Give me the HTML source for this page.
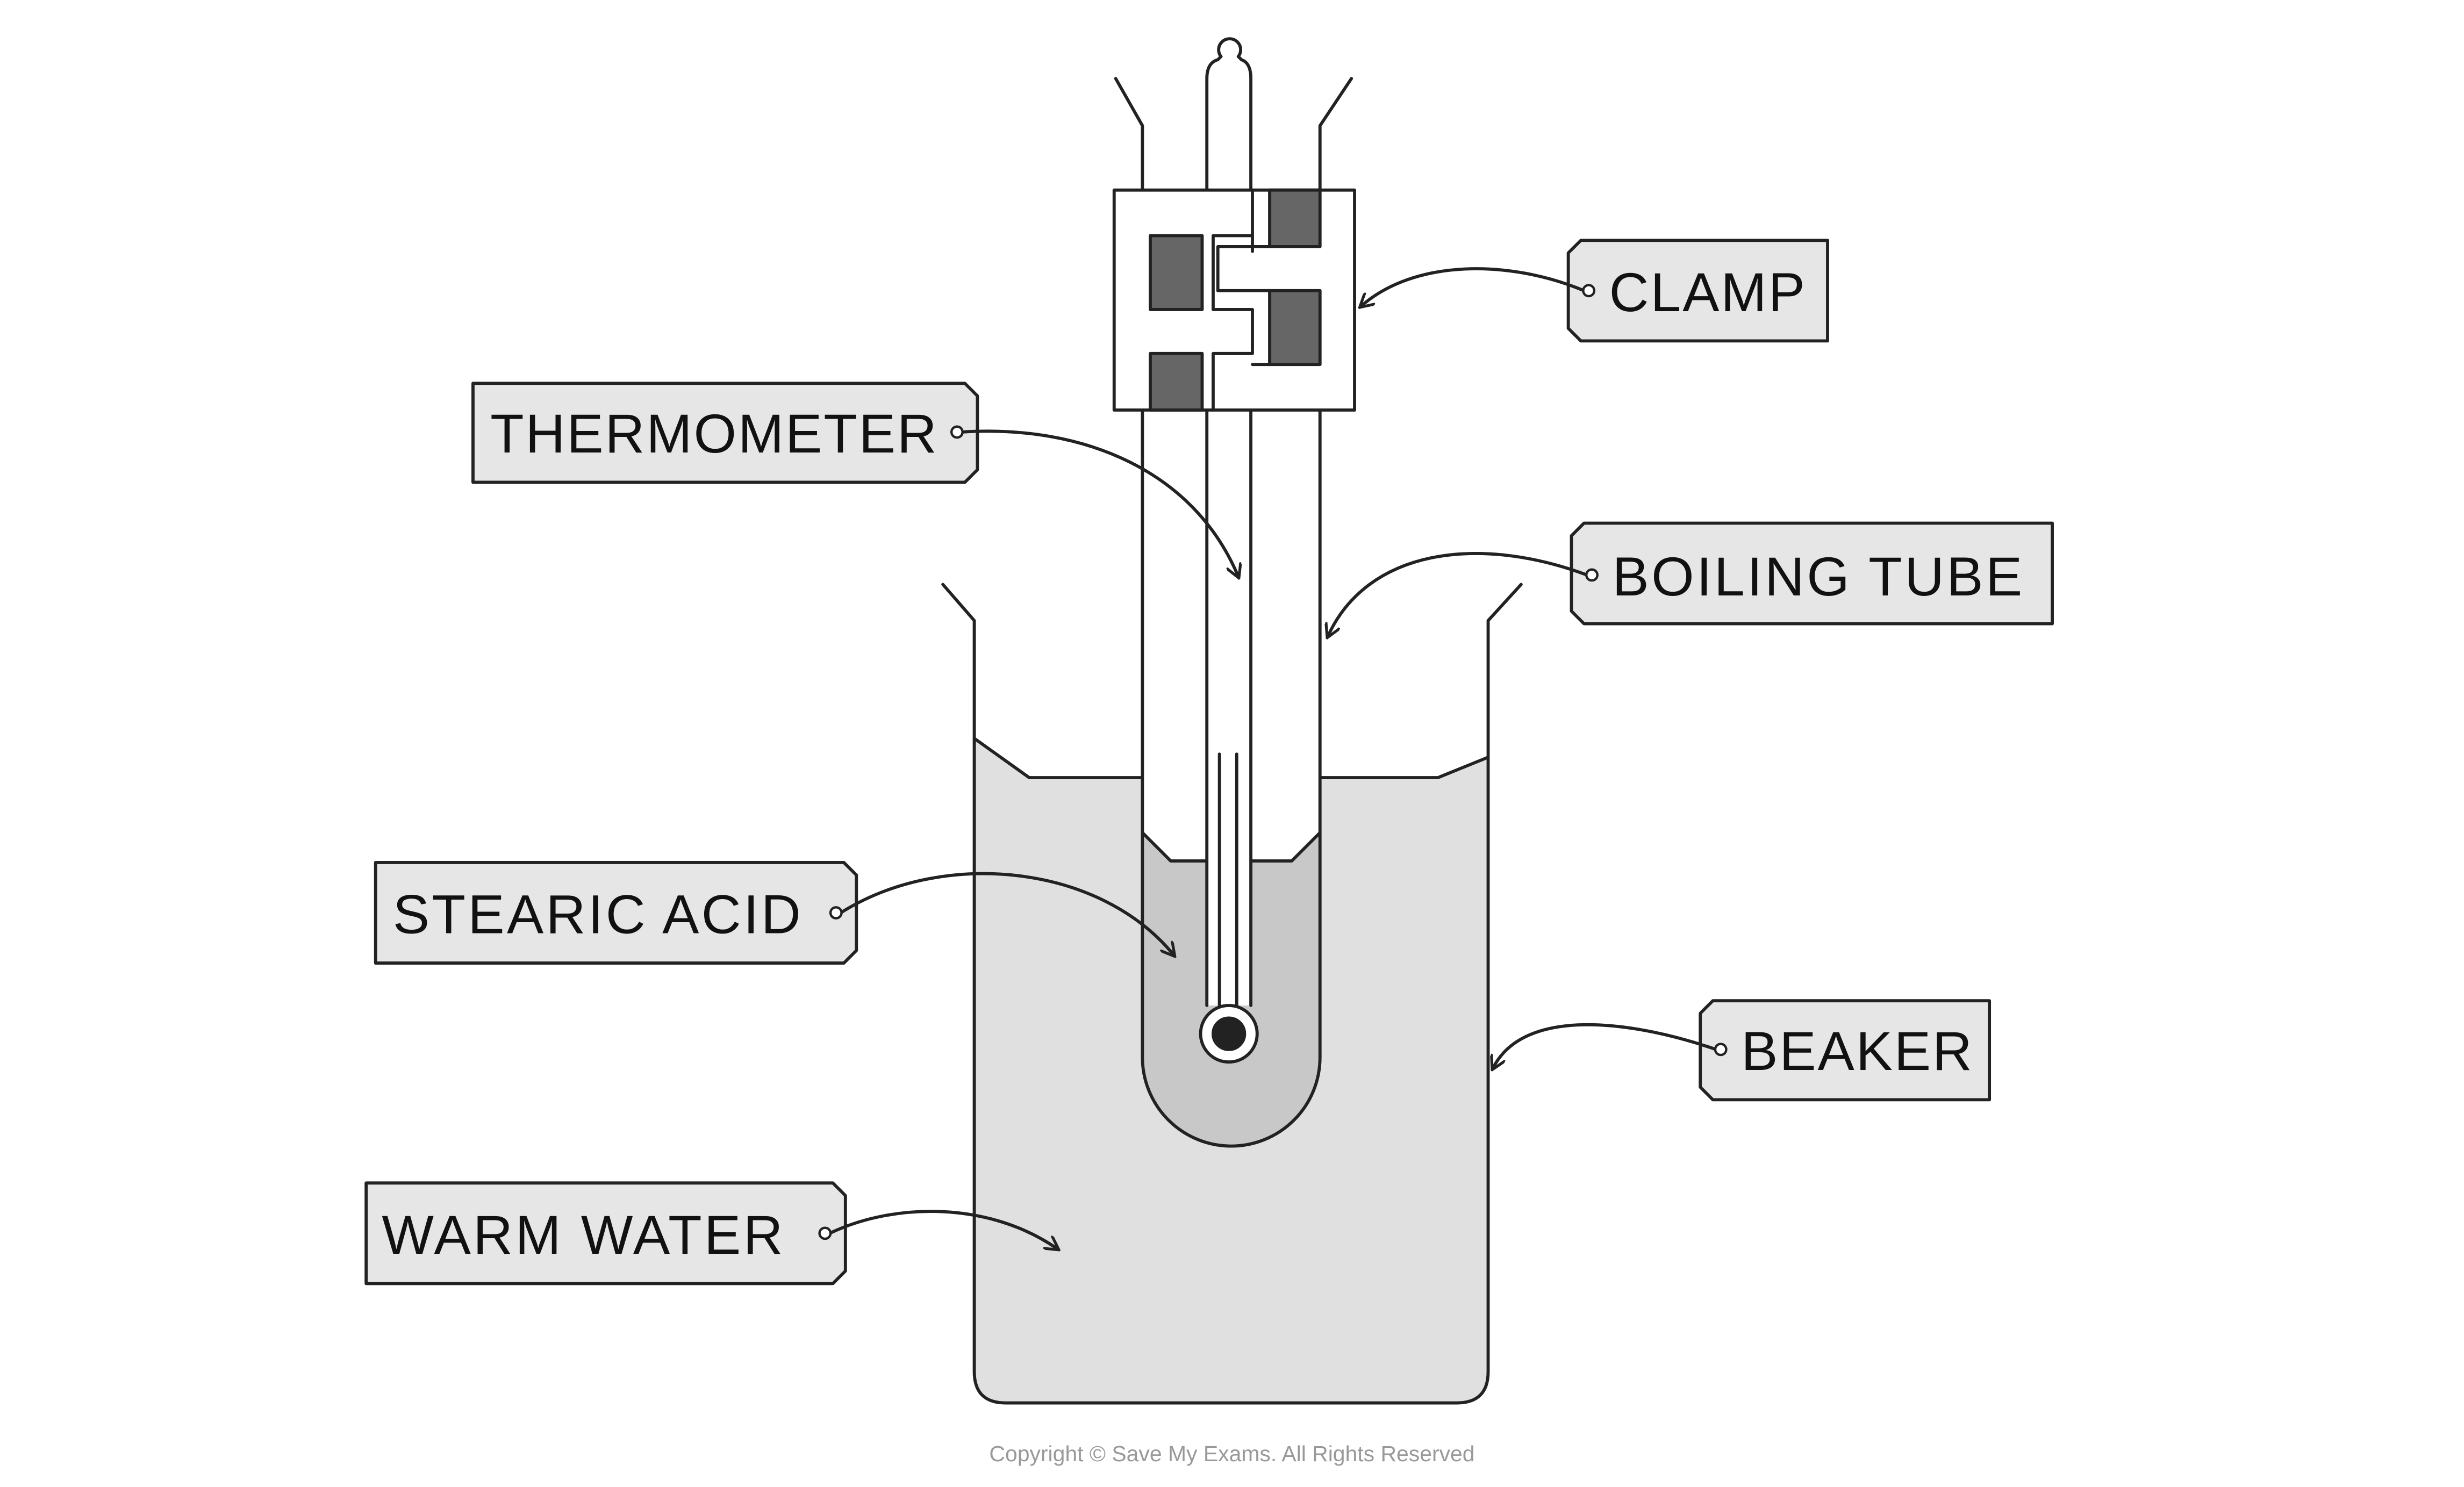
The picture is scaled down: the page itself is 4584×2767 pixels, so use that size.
<!DOCTYPE html>
<html><head><meta charset="utf-8"><style>
html,body{margin:0;padding:0;background:#fff}
svg{display:block}
text{font-family:"Liberation Sans",sans-serif}
</style></head><body>
<svg width="4584" height="2767" viewBox="0 0 1568 946.5" preserveAspectRatio="none" xmlns="http://www.w3.org/2000/svg">
<defs>
<marker id="ah" markerWidth="10" markerHeight="10" refX="8" refY="5" orient="auto" markerUnits="userSpaceOnUse" viewBox="0 0 10 10">
<path d="M0,0 L9,5 L0,10" fill="none" stroke="#222" stroke-width="1.8"/>
</marker>
</defs>
<g stroke="#222" stroke-width="2" fill="none" stroke-linejoin="round" stroke-linecap="round">
<path d="M620,470 L655,495 L915,495 L947,482 L947,873 Q947,893 927,893 L640,893 Q620,893 620,873 Z" fill="#e0e0e0" stroke="none"/>
<path d="M620,470 L655,495 L915,495 L947,482" />
<path d="M600,372 L620,395 L620,873 Q620,893 640,893 L927,893 Q947,893 947,873 L947,395 L968,372"/>
<path d="M727,80 L727,673 A56.5,56.5 0 0 0 840,673 L840,80 Z" fill="#fff" stroke="none"/>
<path d="M727,530 L745,548 L822,548 L840,530 L840,673 A56.5,56.5 0 0 1 727,673 Z" fill="#c8c8c8" stroke="none"/>
<path d="M727,530 L745,548 L822,548 L840,530"/>
<path d="M710,50 L727,80 L727,673 A56.5,56.5 0 0 0 840,673 L840,80 L860,50"/>
<path d="M768,640 L768,50 Q768,40 775,38 L777,36 A7,7 0 1 1 788,36 L790,38 Q796,40 796,50 L796,640" fill="#fff"/>
<path d="M776,640 L776,480 M787,640 L787,480"/>
<circle cx="782" cy="658" r="18" fill="#fff"/>
<circle cx="782" cy="658" r="10" fill="#222"/>
<rect x="709" y="121" width="153" height="140" fill="#fff"/>
<path d="M797,121 L797,150 L772,150 L772,197 L797,197 L797,225 L772,225 L772,261" fill="none"/>
<path d="M797,150 L797,160 M808,121 L808,157 L775,157 L775,185 L808,185 L808,232 L797,232" fill="none"/>
<rect x="732" y="150" width="33" height="47" fill="#666"/>
<rect x="732" y="225" width="33" height="36" fill="#666"/>
<rect x="808" y="121" width="32" height="36" fill="#666"/>
<rect x="808" y="185" width="32" height="47" fill="#666"/>
<path d="M1006,153 L1163,153 L1163,217 L1006,217 L998,209 L998,161 Z" fill="#e6e6e6"/>
<path d="M301,244 L614,244 L622,252 L622,299 L614,307 L301,307 Z" fill="#e6e6e6"/>
<path d="M1008,333 L1306,333 L1306,397 L1008,397 L1000,389 L1000,341 Z" fill="#e6e6e6"/>
<path d="M239,549 L537,549 L545,557 L545,605 L537,613 L239,613 Z" fill="#e6e6e6"/>
<path d="M1090,637 L1266,637 L1266,700 L1090,700 L1082,692 L1082,645 Z" fill="#e6e6e6"/>
<path d="M233,753 L530,753 L538,761 L538,809 L530,817 L233,817 Z" fill="#e6e6e6"/>
<path d="M1008,185 C960,165 900,165 866,195" marker-end="url(#ah)"/>
<path d="M612,275 C690,270 760,300 788,367" marker-end="url(#ah)"/>
<path d="M1010,366 C940,340 870,350 845,405" marker-end="url(#ah)"/>
<path d="M535,581 C600,540 700,550 747,608" marker-end="url(#ah)"/>
<path d="M1092,668 C1040,650 970,640 950,680" marker-end="url(#ah)"/>
<path d="M528,785 C570,765 630,765 673,795" marker-end="url(#ah)"/>
</g>
<g fill="#fff" stroke="#222" stroke-width="1.5">
<circle cx="1011" cy="185" r="3.5"/><circle cx="609" cy="275" r="3.5"/><circle cx="1013" cy="366" r="3.5"/>
<circle cx="532" cy="581" r="3.5"/><circle cx="1095" cy="668" r="3.5"/><circle cx="525" cy="785" r="3.5"/>
</g>
<g font-size="35" fill="#111" letter-spacing="1">
<text x="1024" y="198">CLAMP</text>
<text x="312" y="288">THERMOMETER</text>
<text x="1026" y="379" letter-spacing="1.5">BOILING TUBE</text>
<text x="250" y="594" letter-spacing="1.5">STEARIC ACID</text>
<text x="1108" y="681">BEAKER</text>
<text x="243" y="798" letter-spacing="1.5">WARM WATER</text>
</g>
<text x="784" y="930" font-size="14" fill="#999" text-anchor="middle">Copyright © Save My Exams. All Rights Reserved</text>
</svg>
</body></html>
